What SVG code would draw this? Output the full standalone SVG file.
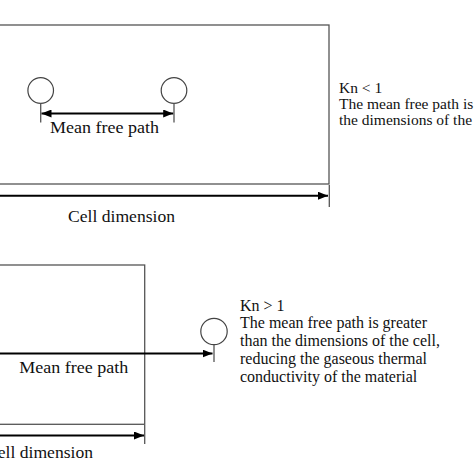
<svg xmlns="http://www.w3.org/2000/svg" width="474" height="474" viewBox="0 0 474 474">
<defs>
<marker id="ah" viewBox="0 0 10 8" refX="10" refY="4" markerWidth="10" markerHeight="8" markerUnits="userSpaceOnUse" orient="auto-start-reverse">
<path d="M0,0 L10,4 L0,8 Z" fill="#000"/>
</marker>
<style>
.box{fill:none;stroke:#555;stroke-width:1.3}
.mol{fill:#fff;stroke:#444;stroke-width:1.2}
.tick{stroke:#555;stroke-width:1.3}
.arr{stroke:#000;stroke-width:2;fill:none}
.lbl{font-family:"Liberation Serif","Times New Roman",serif;font-size:17.5px;fill:#111}
.note{font-family:"Liberation Serif","Times New Roman",serif;font-size:15.5px;fill:#111}
.note2{font-family:"Liberation Serif","Times New Roman",serif;font-size:16px;fill:#111}
</style>
</defs>
<rect width="474" height="474" fill="#fff"/>

<g id="top-cell">
<rect class="box" x="-10" y="25" width="339" height="159"/>
</g>
<g id="top-molecule-1">
<circle class="mol" cx="40.7" cy="90.5" r="12.8"/>
<line class="tick" x1="40.7" y1="103.3" x2="40.7" y2="122.5"/>
</g>
<g id="top-molecule-2">
<circle class="mol" cx="174" cy="90.5" r="12.8"/>
<line class="tick" x1="174" y1="103.3" x2="174" y2="122.5"/>
</g>
<g id="top-cell-tick">
<line class="tick" x1="329.3" y1="185" x2="329.3" y2="207"/>
</g>
<g id="bottom-cell">
<rect class="box" x="-10" y="265" width="154.7" height="159.3"/>
<line class="tick" x1="144.7" y1="425" x2="144.7" y2="444"/>
</g>
<g id="bottom-molecule">
<circle class="mol" cx="214" cy="331.5" r="13.2"/>
<line class="tick" x1="214" y1="344.7" x2="214" y2="362"/>
</g>

<g id="connectors">
<line class="arr" x1="41.5" y1="113.5" x2="173.2" y2="113.5" marker-start="url(#ah)" marker-end="url(#ah)"/>
<line class="arr" x1="-5" y1="195.7" x2="328" y2="195.7" marker-end="url(#ah)"/>
<line class="arr" x1="-5" y1="353.5" x2="212.5" y2="353.5" marker-end="url(#ah)"/>
<line class="arr" x1="-5" y1="435.5" x2="144" y2="435.5" marker-end="url(#ah)"/>
</g>

<g id="labels">
<text class="lbl" x="50" y="133" textLength="109" lengthAdjust="spacingAndGlyphs">Mean free path</text>
<text class="lbl" x="68" y="221.5" textLength="107" lengthAdjust="spacingAndGlyphs">Cell dimension</text>
<text class="lbl" x="19.3" y="373" textLength="109" lengthAdjust="spacingAndGlyphs">Mean free path</text>
<text class="lbl" x="-14" y="457.5" textLength="107" lengthAdjust="spacingAndGlyphs">Cell dimension</text>
</g>

<g id="note-kn-less">
<text class="note" x="339" y="92.5">Kn &lt; 1</text>
<text class="note" x="339" y="108.5">The mean free path is</text>
<text class="note" x="339" y="124.5">the dimensions of the</text>
</g>
<g id="note-kn-greater">
<text class="note2" x="240" y="311">Kn &gt; 1</text>
<text class="note2" x="240" y="328">The mean free path is greater</text>
<text class="note2" x="240" y="345.5">than the dimensions of the cell,</text>
<text class="note2" x="240" y="364">reducing the gaseous thermal</text>
<text class="note2" x="240" y="382">conductivity of the material</text>
</g>
</svg>
